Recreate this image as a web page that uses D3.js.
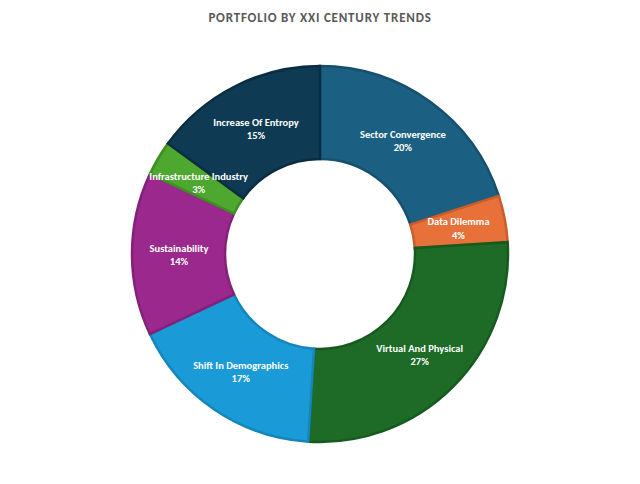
<!DOCTYPE html>
<html><head><meta charset="utf-8">
<script src="https://cdn.jsdelivr.net/npm/d3@7"></script>
<style>body{margin:0;background:#fff}svg{display:block}</style>
</head><body>
<svg id="c" width="640" height="484"></svg>
<script>
const categories = ["Sector Convergence","Data Dilemma","Virtual And Physical","Shift In Demographics","Sustainability","Infrastructure Industry","Increase Of Entropy"];
const values = [20,4,27,17,14,3,15];
const colors = ["#1b5f82","#e8713a","#1d6b27","#1a9bd7","#9b298d","#4ea72e","#0e3a53"];
const strokes = ["#15506e","#c95d2c","#165a1f","#1585ba","#85207a","#3e8f23","#0a2d41"];

const svg = d3.select("#c");
svg.append("text").attr("x",320).attr("y",22).attr("text-anchor","middle")
  .attr("font-family","Calibri, Carlito, 'Open Sans', sans-serif").attr("font-weight","bold")
  .attr("font-size",13).attr("letter-spacing","0.8").attr("fill","#595959")
  .text("PORTFOLIO BY XXI CENTURY TRENDS");

const g = svg.append("g").attr("transform","translate(320,254)");
const pie = d3.pie().sort(null).value(d=>d);
const arcs = pie(values);
const arc = d3.arc().innerRadius(95).outerRadius(188);
const lab = d3.arc().innerRadius(141).outerRadius(141);
g.selectAll("path").data(arcs).join("path").attr("d",arc)
  .attr("fill",(d,i)=>colors[i]).attr("stroke",(d,i)=>strokes[i]).attr("stroke-width",2.5);
const t = g.selectAll("text").data(arcs).join("text")
  .attr("transform",d=>`translate(${lab.centroid(d)})`).attr("text-anchor","middle")
  .attr("font-family","Calibri, Carlito, 'Open Sans', sans-serif").attr("font-weight","bold")
  .attr("font-size",10.5).attr("fill","#fff");
t.append("tspan").attr("x",0).attr("dy","-0.2em").text((d,i)=>categories[i]);
t.append("tspan").attr("x",0).attr("dy","1.25em").text(d=>d.data+"%");
</script>
</body></html>
